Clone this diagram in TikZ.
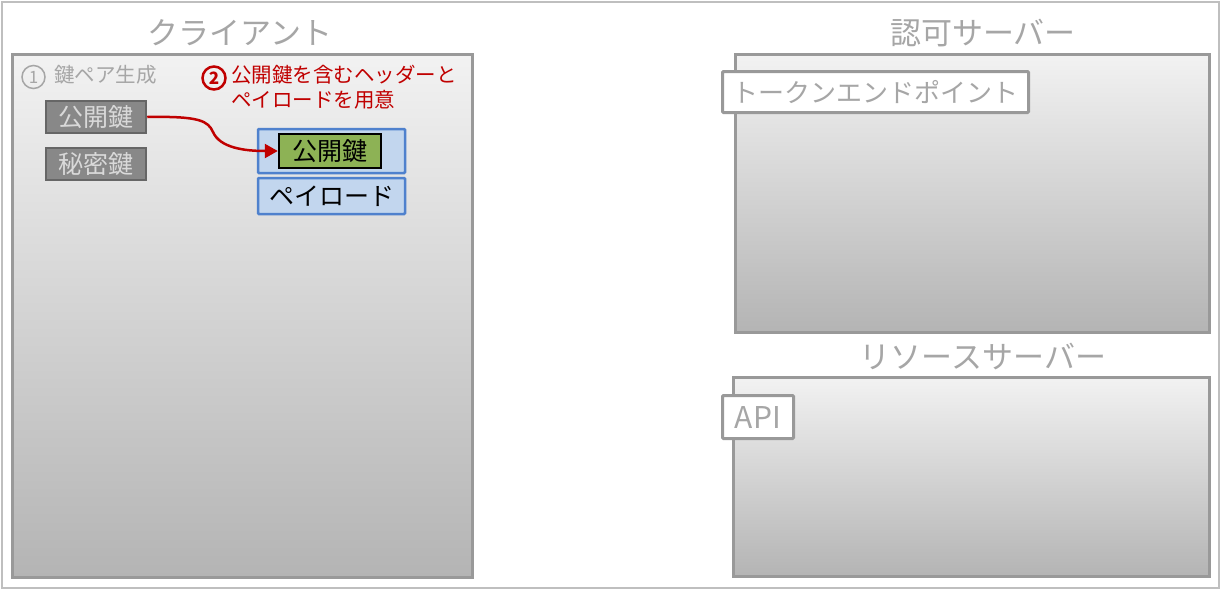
\documentclass[tikz,border=0pt]{standalone}
\usepackage{fontspec}
\setmainfont{Noto Sans CJK JP}
\usetikzlibrary{arrows.meta}
\definecolor{frame}{HTML}{BFBFBF}
\definecolor{boxline}{HTML}{999999}
\definecolor{gtext}{HTML}{A6A6A6}
\definecolor{topc}{HTML}{F2F2F2}
\definecolor{botc}{HTML}{B4B4B4}
\definecolor{darkred}{HTML}{C00000}
\definecolor{keyfill}{HTML}{888888}
\definecolor{keyline}{HTML}{666666}
\definecolor{keytext}{HTML}{D9D9D9}
\definecolor{bluefill}{HTML}{C2D6EE}
\definecolor{blueline}{HTML}{4F81CD}
\definecolor{greenfill}{HTML}{8DB255}
\tikzset{
  panel/.style={draw=boxline, line width=3pt, top color=topc, bottom color=botc, inner sep=0pt},
  title/.style={text=gtext, font=\fontsize{31}{34}\selectfont, inner sep=0pt},
  keybox/.style={draw=keyline, line width=2.5pt, fill=keyfill, text=keytext, font=\fontsize{25}{27}\selectfont, minimum width=100pt, minimum height=32pt, inner sep=0pt},
  bluebox/.style={draw=blueline, line width=2.5pt, fill=bluefill, minimum width=147pt, inner sep=0pt, rounded corners=1pt},
  greenbox/.style={draw=black, line width=2.5pt, fill=greenfill, font=\fontsize{25}{27}\selectfont, minimum width=102pt, minimum height=34pt, inner sep=0pt},
  whitebox/.style={draw=boxline, line width=3pt, fill=white, text=gtext, inner sep=0pt, rounded corners=1pt},
  numcirc/.style={circle, minimum size=23pt, inner sep=0pt, font=\fontsize{17}{18}\selectfont},
  redarrow/.style={draw=darkred, line width=2.5pt, -{Triangle[length=13pt,width=14pt]}},
}
\begin{document}
\begin{tikzpicture}[x=1pt,y=-1pt]
\useasboundingbox (0,0) rectangle (1221,590);
\draw[frame, line width=1.2pt] (2,2) rectangle (1219,588);
% client
\node[title] (ctitle) at (240,33) {クライアント};
\path[panel] (12,54) rectangle (472,577);
\node[numcirc, draw=gtext, line width=1.5pt, text=gtext] (c1) at (33.5,77) {1};
\node[text=gtext, font=\fontsize{20.5}{22}\selectfont, anchor=west, inner sep=0pt] (step1) at (54,75) {鍵ペア生成};
\node[numcirc, draw=darkred, line width=2.5pt, text=darkred, font=\fontsize{17}{18}\selectfont\bfseries] (c2) at (214,78) {2};
\node[text=darkred, font=\fontsize{20.5}{25}\selectfont, anchor=west, align=left, inner sep=0pt] (step2a) at (231,75) {公開鍵を含むヘッダーと};
\node[text=darkred, font=\fontsize{20.5}{25}\selectfont, anchor=west, align=left, inner sep=0pt] (step2b) at (231,100) {ペイロードを用意};
\node[keybox] (pub) at (96,117) {公開鍵};
\node[keybox] (priv) at (96,164) {秘密鍵};
\node[bluebox, minimum height=44pt] (header) at (331.5,151) {};
\node[greenbox] (gkey) at (330,151) {公開鍵};
\node[bluebox, minimum height=36pt, font=\fontsize{25}{27}\selectfont, text=black] (payload) at (331.5,196) {ペイロード};
\draw[redarrow] (pub.east) .. controls (200,116) and (208,121) .. (213,132) .. controls (220,148) and (245,151) .. (gkey.west);
% auth server
\node[title] (atitle) at (983,33) {認可サーバー};
\path[panel] (735,54) rectangle (1209,332);
\node[whitebox, minimum width=306pt, minimum height=41pt, anchor=north west, font=\fontsize{26}{28}\selectfont] (token) at (721,70) {トークンエンドポイント};
% resource server
\node[title] (rtitle) at (983,357) {リソースサーバー};
\path[panel] (733,377) rectangle (1209,576);
\node[whitebox, minimum width=71pt, minimum height=43pt, anchor=north west, font=\fontsize{30}{32}\selectfont] (api) at (721,394) {API};
\end{tikzpicture}
\end{document}
